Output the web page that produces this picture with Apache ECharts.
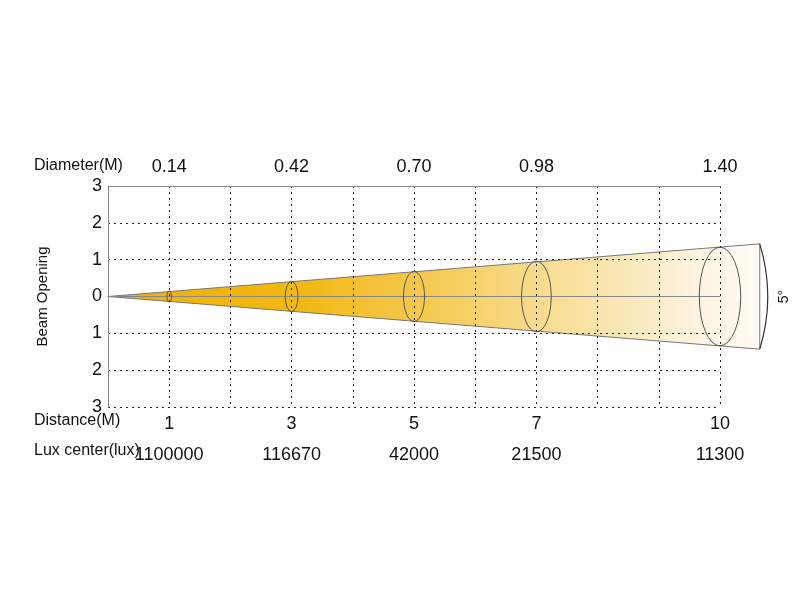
<!DOCTYPE html>
<html><head><meta charset="utf-8">
<script src="https://cdn.jsdelivr.net/npm/echarts@6/dist/echarts.min.js"></script>
<style>html,body{margin:0;padding:0;background:#fff}#c{width:800px;height:600px}</style>
</head><body><div id="c"></div>
<script>
const distances = [1, 3, 5, 7, 10];
const diameters = ['0.14', '0.42', '0.70', '0.98', '1.40'];
const luxCenter = ['1100000', '116670', '42000', '21500', '11300'];
const halfOpening = [0.15, 0.41, 0.68, 0.96, 1.34];
const coneEnd = [10.65, 1.43];
const beamAngle = '5°';

const chart = echarts.init(document.getElementById('c'));
const F = 'Arial, "Liberation Sans", sans-serif';
function lbl(arr){ return v => { const i = distances.indexOf(v); return i >= 0 ? arr[i] : ''; }; }
const xBase = {type:'value', min:0, max:10, interval:1, axisTick:{show:false},
  axisLabel:{fontSize:18, color:'#111', fontFamily:F, showMinLabel:true, showMaxLabel:true}};
chart.setOption({
  animation:false,
  grid:{left:108, right:80, top:186, bottom:193},
  xAxis:[
    Object.assign({}, xBase, {position:'bottom', axisLine:{lineStyle:{color:'#888'}},
      axisLabel:Object.assign({}, xBase.axisLabel, {formatter:lbl(distances.map(String)), margin:8}),
      splitLine:{show:true, lineStyle:{type:[2,4], color:'#222'}}}),
    Object.assign({}, xBase, {position:'top', axisLine:{lineStyle:{color:'#888'}},
      axisLabel:Object.assign({}, xBase.axisLabel, {formatter:lbl(diameters), margin:10}), splitLine:{show:false}}),
    Object.assign({}, xBase, {position:'bottom', offset:31, axisLine:{show:false},
      axisLabel:Object.assign({}, xBase.axisLabel, {formatter:lbl(luxCenter), margin:8}), splitLine:{show:false}})
  ],
  yAxis:{type:'value', min:-3, max:3, interval:1, name:'Beam Opening', nameLocation:'middle', nameGap:58,
    nameTextStyle:{fontSize:15, color:'#111', fontFamily:F},
    axisLine:{show:true, lineStyle:{color:'#888'}}, axisTick:{show:false},
    axisLabel:{fontSize:18, color:'#111', fontFamily:F, margin:6, formatter:v=>String(Math.abs(v))},
    splitLine:{show:true, lineStyle:{type:[2,4], color:'#222'}}},
  graphic:[
    {type:'text', left:34, top:158, style:{text:'Diameter(M)', fontSize:16, fill:'#111', fontFamily:F}},
    {type:'text', left:34, top:413, style:{text:'Distance(M)', fontSize:16, fill:'#111', fontFamily:F}},
    {type:'text', left:34, top:443, style:{text:'Lux center(lux)', fontSize:16, fill:'#111', fontFamily:F}}
  ],
  series:[
    {type:'custom', coordinateSystem:'cartesian2d', data:[[0,0]], z:-1, silent:true,
     renderItem:(params, api)=>{
       const o = api.coord([0,0]), t = api.coord([coneEnd[0], coneEnd[1]]), b = api.coord([coneEnd[0], -coneEnd[1]]);
       const grad = new echarts.graphic.LinearGradient(o[0],0,t[0],0,[
         {offset:0,color:'#efb000'},{offset:0.3,color:'#f2b914'},{offset:0.5,color:'#f5ca55'},
         {offset:0.7,color:'#f9df9a'},{offset:0.9,color:'#fdf3df'},{offset:1,color:'#fffbf5'}], true);
       const mx = t[0] + 16, my = (t[1]+b[1])/2;
       return {type:'group', children:[
         {type:'polygon', shape:{points:[o,t,b]}, style:{fill:grad, stroke:'#777', lineWidth:1}},
         {type:'path', shape:{pathData:`M${t[0]} ${t[1]} Q${mx} ${my} ${b[0]} ${b[1]}`}, style:{fill:'none', stroke:'#333', lineWidth:1.2}},
         {type:'text', x:mx+8, y:my, rotation:Math.PI/2, style:{text:beamAngle, fontSize:14, fill:'#111', fontFamily:F, align:'center', verticalAlign:'middle'}}
       ]};
     }},
    {type:'custom', coordinateSystem:'cartesian2d', z:3, silent:true,
     data: distances.map((d,i)=>[d, halfOpening[i]]),
     renderItem:(params, api)=>{
       const c = api.coord([api.value(0), 0]), tp = api.coord([api.value(0), api.value(1)]);
       const ry = c[1]-tp[1], rx = ry*0.42;
       return {type:'path', shape:{pathData:`M${c[0]-rx} ${c[1]} A${rx} ${ry} 0 1 0 ${c[0]+rx} ${c[1]} A${rx} ${ry} 0 1 0 ${c[0]-rx} ${c[1]} Z`},
         style:{fill:'none', stroke:'#555', lineWidth:1}};
     }}
  ]
});
</script></body></html>
